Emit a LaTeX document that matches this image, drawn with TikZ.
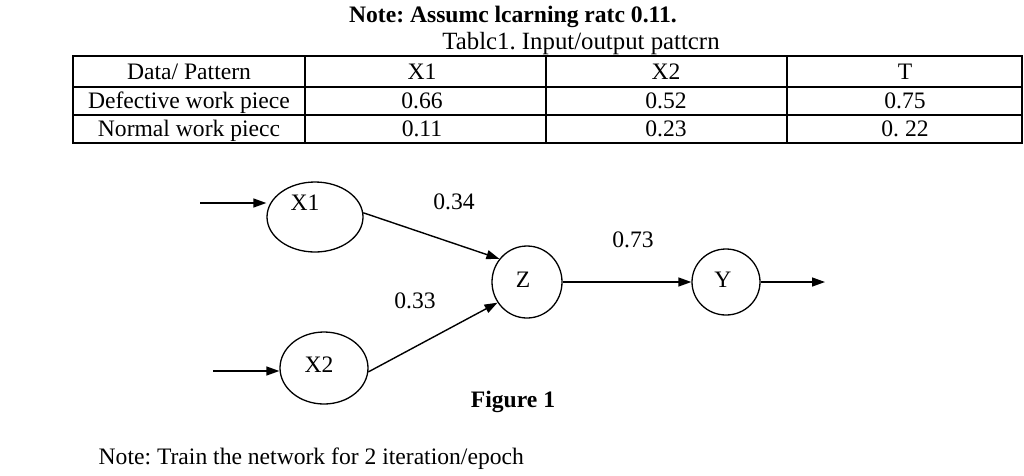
\documentclass[tikz,border=0pt]{standalone}
\usepackage{fontspec}
\setmainfont{Liberation Serif}
\usetikzlibrary{arrows.meta,shapes.geometric}
\begin{document}
\frenchspacing
\begin{tikzpicture}[x=1pt,y=-1pt,
  font=\fontsize{23.6}{26}\selectfont,
  line width=1.4pt,
  >={Triangle[length=13pt,width=9pt]},
  txt/.style={inner sep=0pt,text height=18pt,text depth=3pt},
  neuron/.style={draw,ellipse,line width=1.3pt,inner sep=0pt},
  grid/.style={line width=1.6pt}]
\useasboundingbox (0,0) rectangle (1024,475);
% titles
\node[txt,font=\fontsize{23.6}{26}\selectfont\bfseries] (title) at (513,15) {Note: Assumc lcarning ratc 0.11.};
\node[txt,font=\fontsize{24.8}{27}\selectfont] (tcap) at (581,42) {Tablc1.\ Input/output pattcrn};
% table
\draw[grid] (73,56) rectangle (1022,143);
\draw[grid] (73,87) -- (1022,87);
\draw[grid] (73,115) -- (1022,115);
\draw[grid] (305,56) -- (305,143);
\draw[grid] (546,56) -- (546,143);
\draw[grid] (787,56) -- (787,143);
\node[txt] (h0) at (189,72) {Data/ Pattern};
\node[txt] (h1) at (422,72) {X1};
\node[txt] (h2) at (666,72) {X2};
\node[txt] (h3) at (905,72) {T};
\node[txt] (a0) at (189,101) {Defective work piece};
\node[txt] (a1) at (422,101) {0.66};
\node[txt] (a2) at (666,101) {0.52};
\node[txt] (a3) at (905,101) {0.75};
\node[txt] (b0) at (189,129) {Normal work piecc};
\node[txt] (b1) at (422,129) {0.11};
\node[txt] (b2) at (666,129) {0.23};
\node[txt] (b3) at (905,129) {0.\ 22};
% network
\node[neuron,minimum width=96pt,minimum height=70pt] (x1) at (315,217) {};
\node[txt] (x1l) at (305,203) {X1};
\node[neuron,minimum width=88pt,minimum height=72pt] (x2) at (324,368) {};
\node[txt] (x2l) at (319,365) {X2};
\node[neuron,minimum width=70pt,minimum height=72pt] (z) at (527,282) {};
\node[txt] (zl) at (523,280) {Z};
\node[neuron,minimum width=68pt,minimum height=66pt] (y) at (726,282) {};
\node[txt] (yl) at (723,280) {Y};
\coordinate (in1) at (200,203);
\coordinate (in2) at (213,371);
\coordinate (out) at (825,282);
\draw[->] (in1) -- (in1 -| x1.west);
\draw[->] (in2) -- (in2 -| x2.west);
\draw[->] (x1.5) -- (z.140);
\draw[->] (x2.-5) -- (z.215);
\draw[->] (z.east) -- (y.west);
\draw[->] (y.east) -- (out);
\node[txt] (w1) at (454,202) {0.34};
\node[txt] (w2) at (415,301) {0.33};
\node[txt] (w3) at (633,240) {0.73};
\node[txt,font=\fontsize{23.6}{26}\selectfont\bfseries] (fig) at (513,400) {Figure 1};
\node[txt,anchor=west] (note) at (98,457) {Note: Train the network for 2 iteration/epoch};
\end{tikzpicture}
\end{document}
